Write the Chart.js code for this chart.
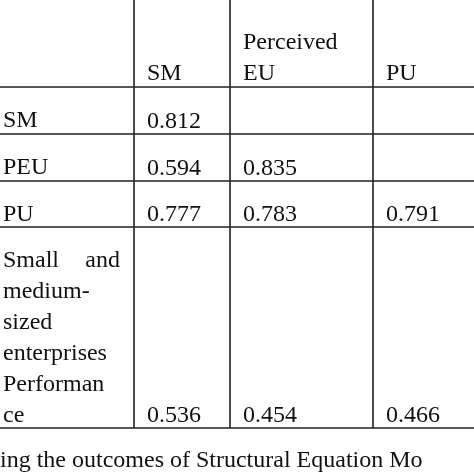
<!DOCTYPE html>
<html><head><meta charset="utf-8">
<script src="https://cdn.jsdelivr.net/npm/chart.js@4"></script>
<style>html,body{margin:0;padding:0;background:#fff}canvas{display:block}</style>
</head><body>
<canvas id="c" width="474" height="474"></canvas>
<script>
const columns = [["SM"], ["Perceived", "EU"], ["PU"]];
const rowLabels = [["SM"], ["PEU"], ["PU"], ["Small  and", "medium-", "sized", "enterprises", "Performan", "ce"]];
const values = [
  [0.812, null, null],
  [0.594, 0.835, null],
  [0.777, 0.783, 0.791],
  [0.536, 0.454, 0.466]
];
const caption = "ing the outcomes of Structural Equation Mo";

// layout (pixels)
const colLines = [134, 230, 373];
const rowLines = [87, 134, 181, 227, 428];
const colTextX = [3, 147, 243, 386];
const lineH = 31;

const tablePlugin = {
  id: 'table',
  afterDraw(chart) {
    const ctx = chart.ctx, sx = chart.scales.x, sy = chart.scales.y;
    const X = v => sx.getPixelForValue(v), Y = v => sy.getPixelForValue(v);
    ctx.save();
    ctx.strokeStyle = '#222'; ctx.lineWidth = 1.6;
    ctx.beginPath();
    colLines.forEach(x => { ctx.moveTo(X(x), Y(0)); ctx.lineTo(X(x), Y(rowLines[rowLines.length-1])); });
    rowLines.forEach(y => { ctx.moveTo(X(0), Y(y)); ctx.lineTo(X(474), Y(y)); });
    ctx.stroke();
    ctx.fillStyle = '#111';
    ctx.font = '24px "Liberation Serif", "Times New Roman", serif';
    ctx.textBaseline = 'alphabetic';
    // header (bottom aligned)
    columns.forEach((lines, j) => {
      lines.forEach((t, k) => {
        ctx.fillText(t, X(colTextX[j+1]), Y(rowLines[0] - 7 - (lines.length-1-k)*lineH));
      });
    });
    // rows
    rowLabels.forEach((lines, i) => {
      const top = rowLines[i];
      const bottom = rowLines[i+1];
      lines.forEach((t, k) => {
        const by = top + 40 + k*lineH;
        if (t.includes('  ')) {
          const parts = t.split(/\s+/);
          ctx.textAlign = 'left'; ctx.fillText(parts[0], X(3), Y(by));
          ctx.textAlign = 'right'; ctx.fillText(parts[1], X(120), Y(by));
          ctx.textAlign = 'left';
        } else ctx.fillText(t, X(3), Y(by));
      });
      values[i].forEach((v, j) => {
        if (v == null) return;
        ctx.fillText(v.toFixed(3), X(colTextX[j+1]), Y(bottom - 6));
      });
    });
    ctx.fillText(caption, X(0), Y(467));
    ctx.restore();
  }
};

new Chart(document.getElementById('c'), {
  type: 'scatter',
  data: { datasets: [{ data: values.flatMap((r, i) => r.map((v, j) => ({x: colTextX[j+1], y: rowLines[i+1]}))), pointRadius: 0 }] },
  options: {
    responsive: false, animation: false,
    layout: { padding: 0 },
    plugins: { legend: { display: false }, tooltip: { enabled: false } },
    scales: {
      x: { type: 'linear', min: 0, max: 474, display: false },
      y: { type: 'linear', min: 0, max: 474, reverse: true, display: false }
    }
  },
  plugins: [tablePlugin]
});
</script>
</body></html>
